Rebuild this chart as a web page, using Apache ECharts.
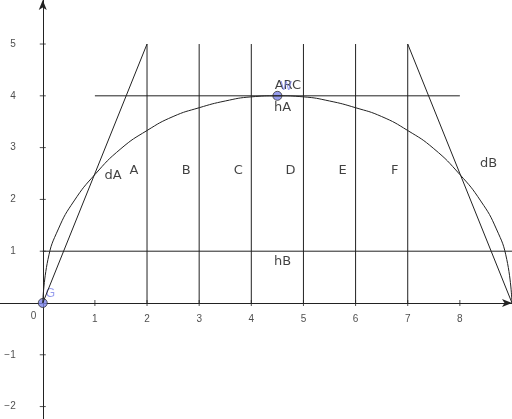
<!DOCTYPE html>
<html><head><meta charset="utf-8">
<script src="https://cdn.jsdelivr.net/npm/echarts@6/dist/echarts.min.js"></script>
<style>html,body{margin:0;padding:0;background:#fff}#c{width:512px;height:419px}</style>
</head><body><div id="c"></div>
<script>
// Arc points
const arcPoints = [[0,0],[0.1,0.84],[0.3,1.43],[0.6,1.97],[1,2.48],[1.5,2.98],[2,3.33],[2.5,3.6],[3,3.77],[3.5,3.9],[4,3.98],[4.5,4],[5,3.98],[5.5,3.9],[6,3.77],[6.5,3.6],[7,3.33],[7.5,2.98],[8,2.48],[8.4,1.97],[8.7,1.43],[8.9,0.84],[9,0]];
const segments = [
  [[0,0],[2,5]], [[7,5],[9,0]],
  [[2,0],[2,5]], [[3,0],[3,5]], [[4,0],[4,5]], [[5,0],[5,5]], [[6,0],[6,5]], [[7,0],[7,5]],
  [[1,4],[8,4]], [[0,1],[9.1,1]]
];
const labels = [['A',1.75,2.55],['B',2.75,2.55],['C',3.75,2.55],['D',4.75,2.55],['E',5.75,2.55],['F',6.75,2.55],
  ['dA',1.35,2.45],['dB',8.55,2.7],['ARC',4.7,4.2],['hA',4.6,3.78],['hB',4.6,0.8]];
const points = [['G',0,0],['W',4.5,4]];
const xTicks = [1,2,3,4,5,6,7,8];
const yTicks = [-2,-1,1,2,3,4,5];

const series = [];
segments.forEach(s => series.push({type:'line', data:s, symbol:'none', lineStyle:{color:'#222',width:1}, silent:true}));
series.push({type:'line', data:arcPoints, smooth:true, symbol:'none', lineStyle:{color:'#222',width:1}});
series.push({type:'scatter', data:xTicks.map(v=>({value:[v,0], name:String(v)})), symbol:'rect', symbolSize:[1,6],
  itemStyle:{color:'#222'}, label:{show:true, formatter:p=>p.name, position:'bottom', distance:8, color:'#222', fontSize:10}});
series.push({type:'scatter', data:yTicks.map(v=>({value:[0,v], name:String(v).replace('-','\u2212')})), symbol:'rect', symbolSize:[6,1],
  itemStyle:{color:'#222'}, label:{show:true, formatter:p=>p.name, position:'left', distance:24, color:'#222', fontSize:10}});
series.push({type:'scatter', data:[{value:[0,0],name:'0'}], symbolSize:0,
  label:{show:true, formatter:'0', position:[-12,8], color:'#222', fontSize:10}});
series.push({type:'scatter', data:labels.map(l=>({value:[l[1],l[2]], name:l[0]})), symbolSize:0,
  label:{show:true, formatter:p=>p.name, color:'#111', fontSize:13, fontFamily:'DejaVu Sans'}});
series.push({type:'scatter', data:points.map(p=>({value:[p[1],p[2]], name:p[0]})), symbolSize:9,
  itemStyle:{color:'#7c83e8', borderColor:'#333', borderWidth:1},
  label:{show:true, formatter:p=>p.name, position:[8,-10], color:'#7c83e8', fontSize:12}});

const chart = echarts.init(document.getElementById('c'));
chart.setOption({
  animation:false,
  grid:{left:0, right:0, top:0, bottom:0, containLabel:false, outerBoundsMode:'none'},
  xAxis:{type:'value', min:-0.82, max:9.0, splitLine:{show:false}, axisTick:{show:false}, axisLabel:{show:false},
    axisLine:{onZero:true, lineStyle:{color:'#222'}, symbol:['none','arrow'], symbolSize:[6,10]}},
  yAxis:{type:'value', min:-2.24, max:5.85, splitLine:{show:false}, axisTick:{show:false}, axisLabel:{show:false},
    axisLine:{onZero:true, lineStyle:{color:'#222'}, symbol:['none','arrow'], symbolSize:[6,10]}},
  series
});
</script></body></html>
